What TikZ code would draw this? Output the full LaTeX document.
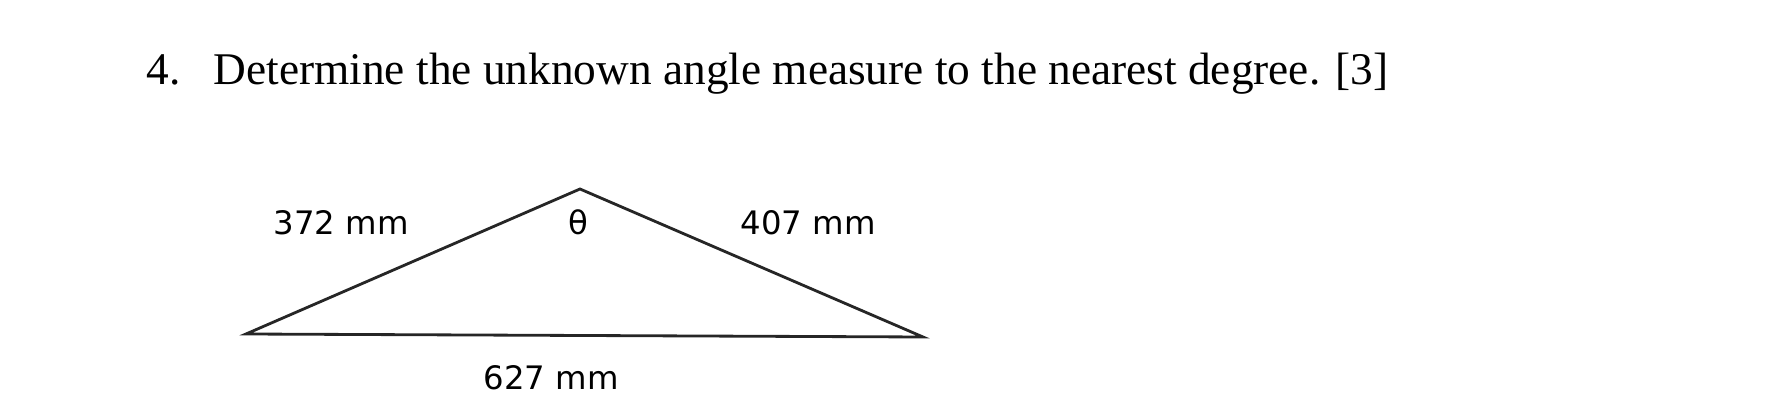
\documentclass[tikz,border=0pt]{standalone}
\usepackage{fontspec}
\setmainfont{Liberation Serif}
\newfontfamily\labelfont{DejaVu Sans}
\usetikzlibrary{positioning}

\tikzset{
  side/.style={draw=black!85,line width=0.8pt,line join=miter},
  measure/.style={font=\labelfont\fontsize{9.2}{11}\selectfont,inner sep=0pt,anchor=base west},
  question/.style={font=\fontsize{12.9}{16}\selectfont,inner sep=0pt,anchor=base west},
}

\begin{document}
\begin{tikzpicture}[x=0.1mm,y=-0.1mm]
\useasboundingbox (0,0) rectangle (1785,413);
% question line
\node (num) [question] at (146,85) {4.};
\node (task) [question] at (213,85) {Determine the unknown angle measure to the nearest degree. [3]};
%
\coordinate (A) at (246,334);
\coordinate (B) at (580,189);
\coordinate (C) at (923,337);
\draw[side] (A) -- (B) -- (C) -- cycle;
%
\node (ab) [measure] at (273,235) {372 mm};
\node (theta) [measure,anchor=base] at (578,235) {θ};
\node (bc) [measure] at (740,235) {407 mm};
\node (ac) [measure] at (483,390) {627 mm};
\end{tikzpicture}
\end{document}
